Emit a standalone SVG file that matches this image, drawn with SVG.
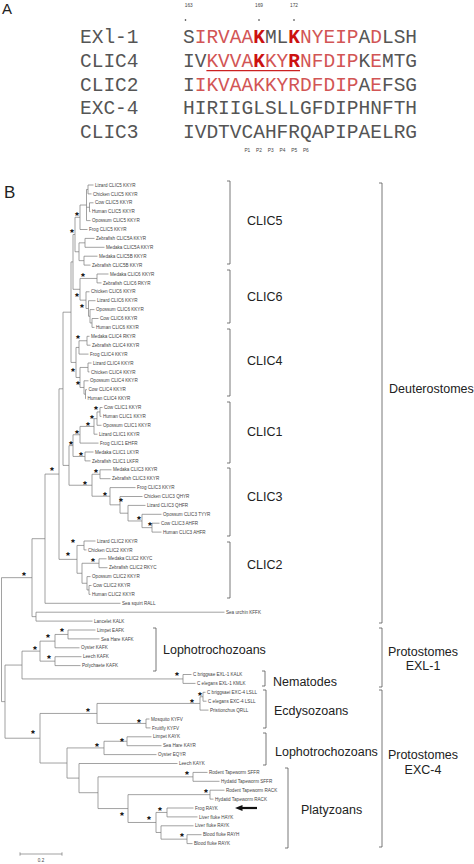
<svg xmlns="http://www.w3.org/2000/svg" width="474" height="864" viewBox="0 0 474 864">
<style>
.bg{fill:#fff}
.br{fill:none;stroke:#7a7a7a;stroke-width:0.7}
.bk{fill:none;stroke:#555;stroke-width:0.8}
.lf{font-family:"Liberation Sans",Arial,sans-serif;font-size:4.6px;fill:#444}
.st{font-family:"Liberation Sans",Arial,sans-serif;font-size:10px;font-weight:bold;fill:#000;text-anchor:middle;text-rendering:geometricPrecision}
.cl{font-family:"Liberation Sans",Arial,sans-serif;font-size:12.5px;fill:#222}
.ct{text-anchor:middle}
.pan{font-family:"Liberation Sans",Arial,sans-serif;fill:#222}
.seq{font-family:"Liberation Mono","Courier New",monospace;font-size:19.5px;fill:#555}
.r{fill:#d25555}
.rb{fill:#cc1111;font-weight:bold}
.sm{font-family:"Liberation Sans",Arial,sans-serif;font-size:4.8px;fill:#444;text-anchor:middle}
</style>
<rect class="bg" x="0" y="0" width="474" height="864"/>

<g id="panelA">
<text class="pan" x="2" y="14" font-size="15">A</text>
<text class="sm" x="188.8" y="7">163</text>
<text class="sm" x="259" y="7">169</text>
<text class="sm" x="294" y="7">172</text>
<circle cx="185.5" cy="20" r="0.8" fill="#222"/>
<circle cx="259" cy="20" r="0.8" fill="#222"/>
<circle cx="294" cy="20" r="0.8" fill="#222"/>
<g id="row-exl1"><text class="seq" x="80" y="43">EXl-1</text><text class="seq" x="183" y="43">S<tspan class="r">IRVAA</tspan><tspan class="rb">K</tspan>ML<tspan class="rb">K</tspan><tspan class="r">NYEIP</tspan>A<tspan class="r">D</tspan>LSH</text></g>
<g id="row-clic4"><text class="seq" x="80" y="66.8">CLIC4</text><text class="seq" x="183" y="66.8">IV<tspan class="r">KVVA</tspan><tspan class="rb">K</tspan><tspan class="r">KY</tspan><tspan class="rb">R</tspan><tspan class="r">NFDIP</tspan>K<tspan class="r">E</tspan>MTG</text>
<line x1="206.4" y1="70.6" x2="300" y2="70.6" stroke="#cc2222" stroke-width="1.2"/></g>
<g id="row-clic2"><text class="seq" x="80" y="90.6">CLIC2</text><text class="seq" x="183" y="90.6">I<tspan class="r">IKVAAKKYRDFDIP</tspan>A<tspan class="r">E</tspan>FSG</text></g>
<g id="row-exc4"><text class="seq" x="80" y="114.4">EXC-4</text><text class="seq" x="183" y="114.4">HIRIIGLSLLGFDIPHNFTH</text></g>
<g id="row-clic3"><text class="seq" x="80" y="138.2">CLIC3</text><text class="seq" x="183" y="138.2">IVDTVCAHFRQAPIPAELRG</text></g>
<text class="sm" x="247.35" y="152">P1</text>
<text class="sm" x="259.05" y="152">P2</text>
<text class="sm" x="270.75" y="152">P3</text>
<text class="sm" x="282.45" y="152">P4</text>
<text class="sm" x="294.15" y="152">P5</text>
<text class="sm" x="305.85" y="152">P6</text>
</g>

<text class="pan" x="4" y="198" font-size="17">B</text>

<g id="connectors" class="br">
<path d="M88 185V193.9M88 185H93.5M88 193.9H91.5"/>
<path d="M89.5 202.8V211.7M89.5 202.8H93.5M89.5 211.7H90.5"/>
<path d="M86.5 189.45V220.6M86.5 189.45H88M86.5 207.25H89.5M86.5 220.6H90.5"/>
<path d="M80 205.03V229.5M80 205.03H86.5M80 229.5H87.5"/>
<path d="M85 238.4V247.3M85 238.4H94.5M85 247.3H104.5"/>
<path d="M84 256.2V265.1M84 256.2H97.5M84 265.1H90.5"/>
<path d="M79 242.85V260.65M79 242.85H85M79 260.65H84"/>
<path d="M75 217.27V251.75M75 217.27H80M75 251.75H79"/>
<path d="M97 274V282.9M97 274H108.5M97 282.9H101.5"/>
<path d="M92 318.5V327.4M92 318.5H98.5M92 327.4H94.5"/>
<path d="M90 309.6V322.95M90 309.6H94.5M90 322.95H92"/>
<path d="M88.5 300.7V316.28M88.5 300.7H95.5M88.5 316.28H90"/>
<path d="M86 291.8V308.49M86 291.8H89.5M86 308.49H88.5"/>
<path d="M80 278.45V300.15M80 278.45H97M80 300.15H86"/>
<path d="M73 234.51V289.3M73 234.51H75M73 289.3H80"/>
<path d="M87 336.3V345.2M87 336.3H89.5M87 345.2H90.5"/>
<path d="M79 340.75V354.1M79 340.75H87M79 354.1H88.5"/>
<path d="M88 363V371.9M88 363H91.5M88 371.9H89.5"/>
<path d="M85.5 389.7V398.6M85.5 389.7H87M85.5 398.6H86"/>
<path d="M84 380.8V394.15M84 380.8H88.5M84 394.15H85.5"/>
<path d="M80 367.45V387.48M80 367.45H88M80 387.48H84"/>
<path d="M76 347.43V377.47M76 347.43H79M76 377.47H80"/>
<path d="M71 261.9V362.45M71 261.9H73M71 362.45H76"/>
<path d="M100 407.5V416.4M100 407.5H102.5M100 416.4H101.5"/>
<path d="M97 411.95V425.3M97 411.95H100M97 425.3H101.5"/>
<path d="M94 418.63V434.2M94 418.63H97M94 434.2H97.5"/>
<path d="M80 426.41V443.1M80 426.41H94M80 443.1H98.5"/>
<path d="M85 452V460.9M85 452H93.5M85 460.9H90.5"/>
<path d="M73 434.76V456.45M73 434.76H80M73 456.45H85"/>
<path d="M100 469.8V478.7M100 469.8H111.5M100 478.7H110.5"/>
<path d="M152 523.2V532.1M152 523.2H159.5M152 532.1H161.5"/>
<path d="M142 514.3V527.65M142 514.3H161.5M142 527.65H152"/>
<path d="M128 505.4V520.98M128 505.4H145.5M128 520.98H142"/>
<path d="M120 496.5V513.19M120 496.5H142.5M120 513.19H128"/>
<path d="M110 487.6V504.85M110 487.6H135.5M110 504.85H120"/>
<path d="M92 474.25V496.23M92 474.25H100M92 496.23H110"/>
<path d="M69 445.6V485.24M69 445.6H73M69 485.24H92"/>
<path d="M63 312.18V465.42M63 312.18H71M63 465.42H69"/>
<path d="M84 541V549.9M84 541H95.5M84 549.9H86.5"/>
<path d="M99 558.8V567.7M99 558.8H106.5M99 567.7H107.5"/>
<path d="M89 585.5V594.4M89 585.5H91.5M89 594.4H90.5"/>
<path d="M87 576.6V589.95M87 576.6H90.5M87 589.95H89"/>
<path d="M82 563.25V583.28M82 563.25H99M82 583.28H87"/>
<path d="M77 545.45V573.27M77 545.45H84M77 573.27H82"/>
<path d="M59 388.8V559.36M59 388.8H63M59 559.36H77"/>
<path d="M45 474.08V603.3M45 474.08H59M45 603.3H120.5"/>
<path d="M36 612.2V621.1M36 612.2H224.5M36 621.1H92.5"/>
<path d="M32 538.69V616.65M32 538.69H45M32 616.65H36"/>
<path d="M68 630V638.9M68 630H95.5M68 638.9H99.5"/>
<path d="M55 634.45V647.8M55 634.45H68M55 647.8H79.5"/>
<path d="M55 656.7V665.6M55 656.7H81.5M55 665.6H80.5"/>
<path d="M40 641.13V661.15M40 641.13H55M40 661.15H55"/>
<path d="M183 674.5V683.4M183 674.5H191.5M183 683.4H195.5"/>
<path d="M22 651.14V678.95M22 651.14H40M22 678.95H183"/>
<path d="M203 692.3V701.2M203 692.3H205.5M203 701.2H206.5"/>
<path d="M200 696.75V710.1M200 696.75H203M200 710.1H208.5"/>
<path d="M146 719V727.9M146 719H149.5M146 727.9H150.5"/>
<path d="M97 703.43V723.45M97 703.43H200M97 723.45H146"/>
<path d="M127 736.8V745.7M127 736.8H151.5M127 745.7H161.5"/>
<path d="M104 741.25V754.6M104 741.25H127M104 754.6H156.5"/>
<path d="M193 772.4V781.3M193 772.4H207.5M193 781.3H219.5"/>
<path d="M210 790.2V799.1M210 790.2H224.5M210 799.1H213.5"/>
<path d="M167 808V816.9M167 808H193.5M167 816.9H197.5"/>
<path d="M187 834.7V843.6M187 834.7H201.5M187 843.6H192.5"/>
<path d="M161 825.8V839.15M161 825.8H193.5M161 839.15H187"/>
<path d="M156 812.45V832.48M156 812.45H167M156 832.48H161"/>
<path d="M128 794.65V822.47M128 794.65H210M128 822.47H156"/>
<path d="M98 776.85V808.56M98 776.85H193M98 808.56H128"/>
<path d="M79 763.5V792.71M79 763.5H177.5M79 792.71H98"/>
<path d="M67 747.93V778.1M67 747.93H104M67 778.1H79"/>
<path d="M40 713.44V763.02M40 713.44H97M40 763.02H67"/>
<path d="M5 665.05V738.23M5 665.05H22M5 738.23H40"/>
<path d="M1.5 577.67V701.64M1.5 577.67H32M1.5 701.64H5"/>
</g>

<g id="leaves" class="lf">
<g id="leaf0"><text x="95" y="186.6">Lizard CLIC5 KKYR</text></g>
<g id="leaf1"><text x="93" y="195.5">Chicken CLIC5 KKYR</text></g>
<g id="leaf2"><text x="95" y="204.4">Cow CLIC5 KKYR</text></g>
<g id="leaf3"><text x="92" y="213.3">Human CLIC5 KKYR</text></g>
<g id="leaf4"><text x="92" y="222.2">Opossum CLIC5 KKYR</text></g>
<g id="leaf5"><text x="89" y="231.1">Frog CLIC5 KKYR</text></g>
<g id="leaf6"><text x="96" y="240">Zebrafish CLIC5A KKYR</text></g>
<g id="leaf7"><text x="106" y="248.9">Medaka CLIC5A KKYR</text></g>
<g id="leaf8"><text x="99" y="257.8">Medaka CLIC5B KKYR</text></g>
<g id="leaf9"><text x="92" y="266.7">Zebrafish CLIC5B KKYR</text></g>
<g id="leaf10"><text x="110" y="275.6">Medaka CLIC6 KKYR</text></g>
<g id="leaf11"><text x="103" y="284.5">Zebrafish CLIC6 RKYR</text></g>
<g id="leaf12"><text x="91" y="293.4">Chicken CLIC6 KKYR</text></g>
<g id="leaf13"><text x="97" y="302.3">Lizard CLIC6 KKYR</text></g>
<g id="leaf14"><text x="96" y="311.2">Opossum CLIC6 KKYR</text></g>
<g id="leaf15"><text x="100" y="320.1">Cow CLIC6 KKYR</text></g>
<g id="leaf16"><text x="96" y="329">Human CLIC6 KKYR</text></g>
<g id="leaf17"><text x="91" y="337.9">Medaka CLIC4 RKYR</text></g>
<g id="leaf18"><text x="92" y="346.8">Zebrafish CLIC4 KKYR</text></g>
<g id="leaf19"><text x="90" y="355.7">Frog CLIC4 KKYR</text></g>
<g id="leaf20"><text x="93" y="364.6">Lizard CLIC4 KKYR</text></g>
<g id="leaf21"><text x="91" y="373.5">Chicken CLIC4 KKYR</text></g>
<g id="leaf22"><text x="90" y="382.4">Opossum CLIC4 KKYR</text></g>
<g id="leaf23"><text x="88.5" y="391.3">Cow CLIC4 KKYR</text></g>
<g id="leaf24"><text x="87.5" y="400.2">Human CLIC4 KKYR</text></g>
<g id="leaf25"><text x="104" y="409.1">Cow CLIC1 KKYR</text></g>
<g id="leaf26"><text x="103" y="418">Human CLIC1 KKYR</text></g>
<g id="leaf27"><text x="103" y="426.9">Opossum CLIC1 KKYR</text></g>
<g id="leaf28"><text x="99" y="435.8">Lizard CLIC1 KKYR</text></g>
<g id="leaf29"><text x="100" y="444.7">Frog CLIC1 EHFR</text></g>
<g id="leaf30"><text x="95" y="453.6">Medaka CLIC1 LKYR</text></g>
<g id="leaf31"><text x="92" y="462.5">Zebrafish CLIC1 LKFR</text></g>
<g id="leaf32"><text x="113" y="471.4">Medaka CLIC3 KKYR</text></g>
<g id="leaf33"><text x="112" y="480.3">Zebrafish CLIC3 KKYR</text></g>
<g id="leaf34"><text x="137" y="489.2">Frog CLIC3 KKYR</text></g>
<g id="leaf35"><text x="144" y="498.1">Chicken CLIC3 QHYR</text></g>
<g id="leaf36"><text x="147" y="507">Lizard CLIC3 QHFR</text></g>
<g id="leaf37"><text x="163" y="515.9">Opossum CLIC3 TYYR</text></g>
<g id="leaf38"><text x="161" y="524.8">Cow CLIC3 AHFR</text></g>
<g id="leaf39"><text x="163" y="533.7">Human CLIC3 AHFR</text></g>
<g id="leaf40"><text x="97" y="542.6">Lizard CLIC2 KKYR</text></g>
<g id="leaf41"><text x="88" y="551.5">Chicken CLIC2 KKYR</text></g>
<g id="leaf42"><text x="108" y="560.4">Medaka CLIC2 KKYC</text></g>
<g id="leaf43"><text x="109" y="569.3">Zebrafish CLIC2 RKYC</text></g>
<g id="leaf44"><text x="92" y="578.2">Opossum CLIC2 KKYR</text></g>
<g id="leaf45"><text x="93" y="587.1">Cow CLIC2 KKYR</text></g>
<g id="leaf46"><text x="92" y="596">Human CLIC2 KKYR</text></g>
<g id="leaf47"><text x="122" y="604.9">Sea squirt RALL</text></g>
<g id="leaf48"><text x="226" y="613.8">Sea urchin KFFK</text></g>
<g id="leaf49"><text x="94" y="622.7">Lancelet KALK</text></g>
<g id="leaf50"><text x="97" y="631.6">Limpet EAFK</text></g>
<g id="leaf51"><text x="101" y="640.5">Sea Hare KAFK</text></g>
<g id="leaf52"><text x="81" y="649.4">Oyster KAFK</text></g>
<g id="leaf53"><text x="83" y="658.3">Leech KAFK</text></g>
<g id="leaf54"><text x="82" y="667.2">Polychaete KAFK</text></g>
<g id="leaf55"><text x="193" y="676.1">C briggsae EXL-1 KALK</text></g>
<g id="leaf56"><text x="197" y="685">C elegans EXL-1 KMLK</text></g>
<g id="leaf57"><text x="207" y="693.9">C briggsaei EXC-4 LSLL</text></g>
<g id="leaf58"><text x="208" y="702.8">C elegans EXC-4 LSLL</text></g>
<g id="leaf59"><text x="210" y="711.7">Pristionchus QRLL</text></g>
<g id="leaf60"><text x="151" y="720.6">Mosquito KYFV</text></g>
<g id="leaf61"><text x="152" y="729.5">Fruitfly KYFV</text></g>
<g id="leaf62"><text x="153" y="738.4">Limpet KAYK</text></g>
<g id="leaf63"><text x="163" y="747.3">Sea Hare KAYR</text></g>
<g id="leaf64"><text x="158" y="756.2">Oyster EQYR</text></g>
<g id="leaf65"><text x="179" y="765.1">Leech KAYK</text></g>
<g id="leaf66"><text x="209" y="774">Rodent Tapeworm SFFR</text></g>
<g id="leaf67"><text x="221" y="782.9">Hydatid Tapeworm SFFR</text></g>
<g id="leaf68"><text x="226" y="791.8">Rodent Tapeworm RACK</text></g>
<g id="leaf69"><text x="215" y="800.7">Hydatid Tapeworm RACK</text></g>
<g id="leaf70"><text x="195" y="809.6">Frog RAYK</text></g>
<g id="leaf71"><text x="199" y="818.5">Liver fluke HAYK</text></g>
<g id="leaf72"><text x="195" y="827.4">Liver fluke RAYK</text></g>
<g id="leaf73"><text x="203" y="836.3">Blood fluke RAYH</text></g>
<g id="leaf74"><text x="194" y="845.2">Blood fluke RAYK</text></g>
</g>

<g id="support" class="st">
<text x="77" y="218.7">*</text><text x="72" y="235.7">*</text><text x="83" y="279.7">*</text><text x="77" y="299.7">*</text><text x="82" y="310.7">*</text>
<text x="78" y="341.7">*</text><text x="73" y="374.7">*</text><text x="78" y="387.7">*</text><text x="96" y="412.7">*</text><text x="92" y="421.7">*</text>
<text x="88" y="428.7">*</text><text x="77" y="436.7">*</text><text x="71" y="447.7">*</text><text x="81" y="458.7">*</text><text x="52" y="473.7">*</text>
<text x="96" y="475.7">*</text><text x="85" y="487.7">*</text><text x="105" y="498.7">*</text><text x="121" y="504.7">*</text><text x="139" y="522.7">*</text>
<text x="150" y="528.7">*</text><text x="73" y="545.7">*</text><text x="68" y="558.7">*</text><text x="93" y="564.7">*</text><text x="24" y="578.7">*</text>
<text x="62" y="634.7">*</text><text x="48" y="640.7">*</text><text x="35" y="652.7">*</text><text x="49" y="661.7">*</text><text x="177" y="678.7">*</text>
<text x="200" y="698.7">*</text><text x="192" y="705.7">*</text><text x="88" y="714.7">*</text><text x="139" y="725.7">*</text><text x="33" y="736.7">*</text>
<text x="122" y="744.7">*</text><text x="97" y="749.7">*</text><text x="187" y="777.7">*</text><text x="206" y="795.7">*</text><text x="160" y="813.7">*</text>
<text x="122" y="818.7">*</text><text x="149" y="822.7">*</text><text x="182" y="839.7">*</text>
</g>

<g id="arrow">
<polygon points="235,808 242.5,805 242.5,811" fill="#111"/>
<line x1="242" y1="808" x2="257" y2="808" stroke="#111" stroke-width="2.2"/>
</g>

<g id="scalebar">
<path class="br" d="M20 854H62M20 852.3V855.7M62 852.3V855.7"/>
<text class="lf" x="41" y="862" text-anchor="middle">0.2</text>
</g>

<g id="clade-CLIC5"><path class="bk" d="M227 181H230V264H227"/><text class="cl" x="247" y="224.5">CLIC5</text></g>
<g id="clade-CLIC6"><path class="bk" d="M227 270H230V323H227"/><text class="cl" x="247" y="300.5">CLIC6</text></g>
<g id="clade-CLIC4"><path class="bk" d="M227 329H230V396H227"/><text class="cl" x="247" y="364.5">CLIC4</text></g>
<g id="clade-CLIC1"><path class="bk" d="M227 402H230V463H227"/><text class="cl" x="247" y="435.5">CLIC1</text></g>
<g id="clade-CLIC3"><path class="bk" d="M227 468H230V536H227"/><text class="cl" x="247" y="500.5">CLIC3</text></g>
<g id="clade-CLIC2"><path class="bk" d="M227 542H230V598H227"/><text class="cl" x="247" y="568.5">CLIC2</text></g>
<g id="clade-deut"><path class="bk" d="M379 183H382V623H379"/><text class="cl" x="389" y="392.5">Deuterostomes</text></g>
<g id="clade-exl1"><path class="bk" d="M379 628H382V687H379"/><text class="cl ct" x="423" y="655.5">Protostomes</text><text class="cl ct" x="423" y="669.5">EXL-1</text></g>
<g id="clade-exc4"><path class="bk" d="M379 690H382V847H379"/><text class="cl ct" x="423" y="758.5">Protostomes</text><text class="cl ct" x="423" y="773.5">EXC-4</text></g>
<g id="clade-loph1"><path class="bk" d="M153 628H156V671H153"/><text class="cl" x="163" y="653.5" font-size="12">Lophotrochozoans</text></g>
<g id="clade-nem"><path class="bk" d="M262 671H265V686H262"/><text class="cl" x="273" y="685.5">Nematodes</text></g>
<g id="clade-ecd"><path class="bk" d="M263 690H266V728H263"/><text class="cl" x="274" y="714.5">Ecdysozoans</text></g>
<g id="clade-loph2"><path class="bk" d="M263 733H266V765H263"/><text class="cl" x="275" y="755.5" font-size="12">Lophotrochozoans</text></g>
<g id="clade-platy"><path class="bk" d="M285 768H288V848H285"/><text class="cl" x="301" y="813.5">Platyzoans</text></g>
</svg>
